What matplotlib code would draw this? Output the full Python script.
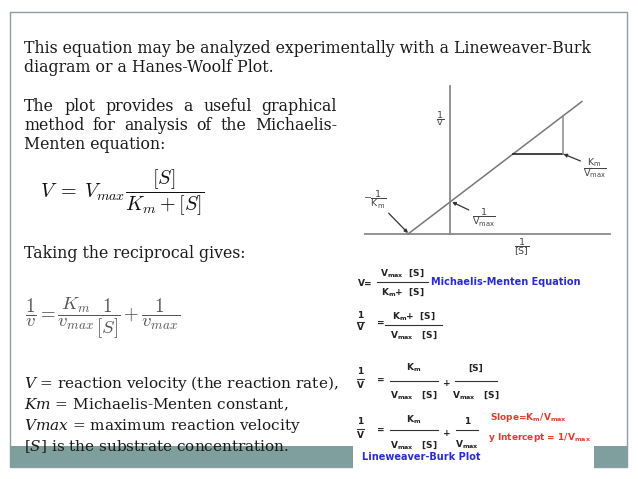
import matplotlib
matplotlib.use("Agg")
import matplotlib.pyplot as plt
from matplotlib.patches import Rectangle

# Lineweaver-Burk constants used to draw the diagram (1/[S] on x, 1/v on y)
km = 1.0
vmax = 1.0
x_axis_range = [-2.02, 3.81]
y_axis_range = [0.0, 4.62]
line_end_x = 3.14
triangle_x = [1.5, 2.7]

# slide text
intro_lines = ["This equation may be analyzed experimentally with a Lineweaver-Burk",
               "diagram or a Hanes-Woolf Plot."]
para_lines = ["The plot provides a useful graphical",
              "method for analysis of the Michaelis-",
              "Menten equation:"]
legend_lines = [r"$V$ = reaction velocity (the reaction rate),",
                r"$Km$ = Michaelis-Menten constant,",
                r"$Vmax$ = maximum reaction velocity",
                r"[$S$] is the substrate concentration."]

TXT = "#1a1a1a"
SERIF = "DejaVu Serif"
FS = 11.35

fig = plt.figure(figsize=(6.38, 4.79), dpi=100)
ax = fig.add_axes([0, 0, 1, 1])
ax.set_xlim(0, 638)
ax.set_ylim(479, 0)
ax.axis("off")

# slide frame and footer band
ax.add_patch(Rectangle((10, 12), 617, 455, fill=False, ec="#8a9ea3", lw=1))
ax.add_patch(Rectangle((10, 446), 617, 21, color="#7f9e9e", lw=0))

renderer = fig.canvas.get_renderer()


def justify(words, x0, x1, y, **kw):
    items = [ax.text(0, y, w, **kw) for w in words]
    widths = [t.get_window_extent(renderer).width for t in items]
    gap = (x1 - x0 - sum(widths)) / (len(words) - 1)
    x = x0
    for t, w in zip(items, widths):
        t.set_x(x)
        x += w + gap


for i, s in enumerate(intro_lines):
    ax.text(24, 53 + 19 * i, s, family=SERIF, fontsize=FS, color=TXT, va="baseline")

for i, s in enumerate(para_lines):
    y = 111 + 19 * i
    if i < 2:
        justify(s.split(), 24, 337, y, family=SERIF, fontsize=FS, color=TXT, va="baseline")
    else:
        ax.text(24, y, s, family=SERIF, fontsize=FS, color=TXT, va="baseline")

ax.text(40, 193, r"$V\;=\;V_{max}\dfrac{[S]}{K_m + [S]}$", fontsize=14.5,
        math_fontfamily="cm", color="#111", va="center")
ax.text(24, 258, "Taking the reciprocal gives:", family=SERIF, fontsize=FS,
        color=TXT, va="baseline")
ax.text(25, 318, r"$\dfrac{1}{v} = \dfrac{K_m}{v_{max}}\dfrac{1}{[S]} + \dfrac{1}{v_{max}}$",
        fontsize=13.5, math_fontfamily="cm", color="#555", va="center")

for i, s in enumerate(legend_lines):
    ax.text(24, 388 + 21 * i, s, family=SERIF, fontsize=11.0, color=TXT,
            va="baseline", math_fontfamily="dejavuserif")

# ---- Lineweaver-Burk diagram ----
ax2 = fig.add_axes([361.8 / 638, 1 - 240.4 / 479, 252 / 638, 160 / 479])
ax2.set_xlim(-2.1, 3.9)
ax2.set_ylim(-0.2, 4.8)
ax2.axis("off")
grey = "#8a8a8a"
ax2.plot(x_axis_range, [0, 0], color=grey, lw=1.3)
ax2.plot([0, 0], y_axis_range, color=grey, lw=1.3)
lx = [-1 / km, line_end_x]
ax2.plot(lx, [1 / vmax + km / vmax * v for v in lx], color="#777", lw=1.1)
ty = 1 / vmax + km / vmax * triangle_x[0]
ax2.plot(triangle_x, [ty, ty], color="#111", lw=1.1)
ax2.plot([triangle_x[1]] * 2, [ty, 1 / vmax + km / vmax * triangle_x[1]], color=grey, lw=1.1)

lab = dict(fontsize=6.8, color="#444", math_fontfamily="dejavusans", ha="center", va="center")
ax2.text(-0.24, 3.62, r"$\dfrac{1}{\mathrm{v}}$", **lab)
ax2.text(1.71, -0.4, r"$\dfrac{1}{[\mathrm{S}]}$", **lab)
arr = dict(arrowstyle="-|>", color="#333", lw=0.9, mutation_scale=5, shrinkA=0, shrinkB=0)
ax2.annotate(r"$-\dfrac{1}{\mathrm{K_m}}$", xy=(-1 / km, 0.03), xytext=(-1.8, 1.06),
             arrowprops=dict(arr, relpos=(0.85, 0.2)), **lab)
ax2.annotate(r"$\dfrac{1}{\mathrm{V_{max}}}$", xy=(0.05, 1 / vmax), xytext=(0.79, 0.5),
             arrowprops=dict(arr, relpos=(0.1, 0.75)), **lab)
ax2.annotate(r"$\dfrac{\mathrm{K_m}}{\mathrm{V_{max}}}$", xy=(triangle_x[1], ty), xytext=(3.45, 2.06),
             arrowprops=dict(arr, relpos=(0.0, 0.75)), **lab)

# ---- lower equations image ----
ax.add_patch(Rectangle((353, 258), 241, 214, color="white", lw=0, zorder=3))
eq = dict(fontsize=6.5, color="#222", math_fontfamily="dejavusans", zorder=4,
          va="center", ha="center", fontweight="bold")


def frac(x0, x1, y, num, den, ny=None, dy=None):
    ax.plot([x0, x1], [y, y], color="#333", lw=0.8, zorder=4)
    ax.text((x0 + x1) / 2, y - 9 if ny is None else ny, num, **eq)
    ax.text((x0 + x1) / 2, y + 10 if dy is None else dy, den, **eq)


VM = r"$\mathbf{V_{max}}$"
KM = r"$\mathbf{K_m}$"
ax.text(365, 283, "V=", **eq)
frac(377, 428, 282, VM + "  [S]", KM + "+  [S]")
ax.text(431, 282, "Michaelis-Menten Equation", fontsize=7, color="#2b2bd0",
        fontweight="bold", va="center", zorder=4)

for yb in [322, 379, 429]:
    frac(357, 364, yb, "1", "V", ny=yb - 7, dy=yb + 6)
    ax.text(381, yb + 1, "=", **eq)
frac(385, 442, 325, KM + "+  [S]", VM + "   [S]")
frac(390, 438, 381, KM, VM + "   [S]", ny=368, dy=395)
ax.text(447, 383, "+", **eq)
frac(455, 497, 381, "[S]", VM + "   [S]", ny=368, dy=395)
frac(390, 438, 430, KM, VM + "   [S]", ny=420, dy=445)
ax.text(447, 433, "+", **eq)
frac(456, 478, 430, "1", VM, ny=422, dy=445)

red = dict(fontsize=6.5, color="#e23b2e", fontweight="bold", va="center", zorder=4,
           math_fontfamily="dejavusans")
ax.text(490, 418, r"Slope=K$_\mathbf{m}$/V$_\mathbf{max}$", **red)
ax.text(488, 437, r"y Intercept = 1/V$_\mathbf{max}$", **red)
ax.text(362, 457, "Lineweaver-Burk Plot", fontsize=7, color="#2b2bd0",
        fontweight="bold", va="center", zorder=4)

fig.savefig("out.png", dpi=100)
